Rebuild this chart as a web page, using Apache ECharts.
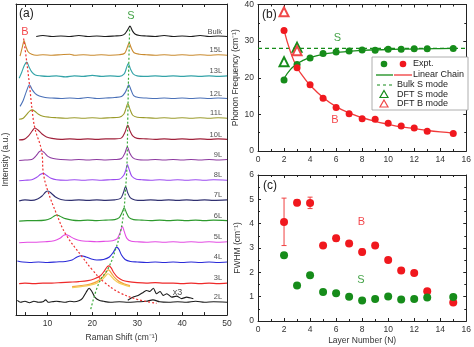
<!DOCTYPE html>
<html>
<head>
<meta charset="utf-8">
<script src="https://cdn.jsdelivr.net/npm/echarts@6/dist/echarts.min.js"></script>
<style>
html,body{margin:0;padding:0;background:#fff}
#main{width:474px;height:347px}
</style>
</head>
<body>
<div id="main"></div>
<script>
// ---- panel (a): Raman spectra, [shift cm-1, stacked intensity a.u.]
var specNames = ['Bulk','15L','13L','12L','11L','10L','9L','8L','7L','6L','5L','4L','3L','2L'];
var spBulk = [[7.5,283],[9,284],[11,283],[13,283.5],[15,283],[17,284],[19,283],[21,283.5],[23,283],[25,283.5],[26.5,284],[27.3,286],[27.9,290],[28.4,293.5],[28.9,289],[29.5,285.5],[30.5,284],[32,283.5],[34,283],[36,284],[38,283],[40,283.5],[42,283],[44,284],[46,283],[48,283.5],[50,283]];
var sp15L = [[3.9,263],[4.4,272],[4.8,279],[5.2,273],[5.7,267.5],[6.5,265],[7.5,264],[9,264.5],[11,264],[13,264.5],[15,265],[16,264],[18,264.5],[20,264],[22,264.5],[24,264],[26,264.5],[27.2,266],[27.8,272],[28.2,276.5],[28.7,271],[29.3,266.5],[30.5,265],[32,264.5],[34,264],[36,264.5],[38,264],[40,264.5],[42,264],[44,264.5],[46,264],[48,264.5],[50,264]];
var sp13L = [[3.7,240.5],[4.3,247],[4.9,254],[5.4,257],[5.9,252],[6.5,247],[7.3,244],[8.5,243],[10,242.5],[12,243],[14,242],[16,243],[18,242.5],[20,243.5],[22,242.5],[24,243],[26,242.5],[27.1,245],[27.6,251],[28,255.5],[28.5,250],[29.1,245],[30,243],[32,242.5],[34,243],[36,242.5],[38,243],[40,242.5],[42,243],[44,242.5],[46,243],[48,242.5],[50,243]];
var sp12L = [[3.9,212],[4.6,218],[5.3,227],[6.0,234],[6.6,229],[7.3,225],[8.2,222.5],[9.5,221],[11,220.5],[13,220],[15,220.5],[17,220],[19,221],[21,220],[23,220.5],[25,221],[26.5,222],[27.3,226],[27.8,231],[28.1,234],[28.6,229],[29.2,223],[30.3,221],[32,220.5],[34,220],[36,220.5],[38,220],[40,220.5],[42,220],[44,220.5],[46,220],[48,220.5],[50,220]];
var sp11L = [[3.7,199],[4.6,200],[5.4,204],[6.1,207.5],[6.6,208.5],[7.2,207],[8,204],[9,202],[10.5,201],[12,200.5],[14,200],[16,200.5],[18,200],[20,200.5],[22,200],[24,200.5],[26,201],[27,204],[27.5,210],[27.9,215],[28.4,209],[29,203],[30,201],[32,200.5],[34,200],[36,200.5],[38,200],[40,200.5],[42,200],[44,200.5],[46,200],[48,200.5],[50,200]];
var sp10L = [[3.7,178],[4.8,178.5],[5.8,182],[6.6,187],[7.2,190],[7.9,188],[8.8,184],[9.8,181],[11,179.5],[13,178.5],[15,179],[17,178.5],[19,179],[21,178.5],[23,179],[25,179],[26.5,180],[27.3,186],[27.9,193],[28.4,187],[29,182],[30,179.5],[32,179],[34,178.5],[36,179],[38,178.5],[40,179],[42,178.5],[44,179],[46,178.5],[48,179],[50,178.5]];
var sp9L = [[3.7,157],[5,157.5],[6.5,158],[7.5,162],[8.2,166],[8.7,167],[9.3,165],[10.2,161],[11.3,159],[13,158],[15,157.5],[17,158],[19,157.5],[21,158],[23,157.5],[25,158],[26.5,159],[27.3,165],[27.8,171],[28.3,165],[29,160],[30,158],[32,157.5],[34,158],[36,157.5],[38,158],[40,157.5],[42,158],[44,157.5],[46,158],[48,157.5],[50,158]];
var sp8L = [[3.7,136.5],[5,137],[6.5,137.5],[7.6,140],[8.5,143],[9.1,144],[9.8,142],[10.8,139],[12,137.5],[14,137],[16,137.5],[18,137],[20,137.5],[22,137],[24,137.5],[26,138],[27,142],[27.5,148],[27.8,153],[28.2,148],[28.8,141],[29.8,138],[31,137.5],[33,137],[35,137.5],[37,137],[39,137.5],[41,137],[43,137.5],[45,137],[47,137.5],[50,137]];
var sp7L = [[3.7,116],[5,117],[6.5,116.5],[7.8,118],[8.8,121],[9.6,125],[10.1,126],[10.8,124],[11.8,120],[13,117.5],[15,116.5],[17,117],[19,116.5],[21,117],[23,116.5],[25,117],[26.3,118.5],[26.9,124],[27.4,130.5],[27.9,124],[28.5,119],[29.5,117],[31,116.5],[33,117],[35,116.5],[37,117],[39,116.5],[41,117],[43,116.5],[45,117],[47,116.5],[50,117]];
var sp6L = [[3.7,95.5],[5.5,96],[7.5,96],[9.5,96.5],[10.8,98.5],[11.6,101],[12.1,101.7],[12.8,100.5],[14,98],[15.5,96.5],[17,96],[19,96.5],[21,96],[23,96.5],[25,97],[26,99],[26.6,104],[27.1,109],[27.6,104],[28.2,99],[29.2,97],[31,96.5],[33,96],[35,96.5],[37,96],[39,96.5],[41,96],[43,96.5],[45,96],[47,96.5],[50,96]];
var sp5L = [[3.7,73.5],[5.5,74],[7.5,74],[9.5,74.5],[11.5,75.5],[12.8,78],[13.6,81],[14.1,81.7],[14.8,80.5],[16,77.5],[17.5,75.5],[19,75],[21,74.5],[23,75],[24.5,75.5],[25.6,78],[26.2,84],[26.7,90],[27.1,85],[27.7,78],[28.7,75],[30,74.5],[32,74],[34,74.5],[36,74],[38,74.5],[40,74],[42,74.5],[44,74],[46,74.5],[48,74],[50,74.5]];
var sp4L = [[3.3,55],[4.5,54],[6,53.5],[8,54],[10,53.5],[12,54],[14,54.5],[15.5,56],[16.6,59],[17.6,60.3],[18.6,59],[19.8,57],[21,56],[22.5,56.5],[23.8,59],[24.7,64],[25.4,69],[25.9,67],[26.5,61],[27.3,56.5],[28.5,54.5],[30,54],[32,53.5],[34,54],[36,53.5],[38,54],[40,53.5],[42,54],[44,53.5],[46,54],[48,53.5],[50,54]];
var sp3L = [[3.7,32],[5,32.5],[7,32],[9,32.5],[11,32.5],[13,33],[15,33.5],[17,34],[19,35],[20.5,37],[21.8,40],[22.7,45],[23.3,49],[23.7,50],[24.2,48],[24.8,43],[25.6,38.5],[26.7,35.5],[28,34],[30,33],[32,32.5],[34,33],[36,32.5],[38,32.5],[40,32],[42,32.5],[44,32],[46,32.5],[48,32],[50,32.5]];
var sp2L = [[3.3,15],[4,13],[5,14],[6,12.5],[7,14],[8,13],[9,13.5],[9.6,15.5],[10.2,13],[11,13.5],[12,14],[13,13.5],[14,13],[15,14],[16,13.5],[17,14.5],[17.8,17],[18.6,23],[19.3,27.3],[19.9,24],[20.6,18],[21.5,15],[22.5,14],[24,13],[26,13.5],[28,13],[30,13.5],[32,14],[33.5,15.5],[35,13.5],[37,13],[39,13.5],[41,13],[43,14],[45,13],[47,13.5],[50,13]];
var sp2Lx3 = [[27.9,15],[29.1,18.3],[30.2,20],[31.4,23.3],[32.1,25],[32.8,24],[33.6,27.3],[34.3,21.7],[35.1,24],[35.8,20],[36.6,21.7],[37.7,18.3],[38.8,19.3],[39.9,16.7],[41,18.3],[42.5,16.7]];
var fit3La = [[15.5,29],[17.5,30],[19.5,31.5],[21,34],[22.2,38],[23,43],[23.6,46],[24.2,43],[25,38],[26,34],[27.2,31.5],[28.4,30]];
var fit3Lb = [[15.5,28],[17.5,29],[19.5,30.5],[21,32.5],[22.2,36],[23,40],[23.5,42],[24.1,40],[25,35.5],[26,32.5],[27.2,30.5],[28.4,29]];
var guideB = [[4.7,281],[5.4,257],[6.0,234],[6.6,208],[7.2,190],[8.7,167],[9.1,144],[10.1,126],[12.1,102],[14.1,82],[17.6,60],[20,46],[22.5,34],[26,23],[30,16],[34.3,12]];
var guideS = [[28.3,290],[28.1,250],[27.9,200],[27.7,150],[27.4,128],[27.0,105],[26.3,85],[25.2,67],[23.6,48],[21.5,33],[19.6,5]];
var ramanLabels = [10,20,30,40,50];
var ramanTicks = [5,10,15,20,25,30,35,40,45,50];

// ---- panel (b): phonon frequency vs layer number
var layerN = [2,3,4,5,6,7,8,9,10,11,12,13,15];
var freqS = [19.4,23.6,25.4,26.6,27.0,27.3,27.6,27.5,27.8,27.8,27.9,27.9,28.0];
var freqB = [32.9,22.7,18.1,14.4,11.9,10.2,8.8,8.7,7.6,6.8,6.3,5.4,4.8];
var chainN = [2,2.5,3,3.5,4,5,6,7,8,9,10,11,12,13,14,15];
var chainS = [19.8,22.3,23.8,24.8,25.5,26.4,26.9,27.2,27.5,27.6,27.7,27.8,27.85,27.9,27.95,28.0];
var chainB = [33,27,22.8,20.2,18,14.6,12.1,10.4,9.1,8.1,7.3,6.6,6.1,5.6,5.2,4.9];
var bulkS = 28.0;
var dftN = [2,3];
var dftS = [24.4,28.3];
var dftB = [38.0,27.4];

// ---- panel (c): FWHM vs layer number
var fwhmB = [4.07,4.86,4.85,3.1,3.4,3.19,2.84,3.1,2.51,2.08,1.97,1.22,0.76];
var fwhmBLo = [3.1,4.74,4.62,3.02,3.28,3.11,2.72,3.02,2.43,1.98,1.87,1.16,0.71];
var fwhmBHi = [5.05,4.98,5.09,3.18,3.52,3.27,2.96,3.18,2.59,2.18,2.07,1.28,0.81];
var fwhmS = [2.7,1.46,1.88,1.19,1.14,1.0,0.84,0.9,1.01,0.88,0.9,0.97,0.99];
var fwhmSLo = [2.6,1.41,1.83,1.14,1.09,0.95,0.79,0.85,0.96,0.83,0.85,0.92,0.94];
var fwhmSHi = [2.8,1.51,1.93,1.24,1.19,1.05,0.89,0.95,1.06,0.93,0.95,1.02,1.04];

var specColors = ['#1c1c1c','#c98a2e','#33a3a8','#4a70b8','#9b9b2a','#a0203a','#8d3aa0','#9b4bf0','#303070','#2e9a2e','#e34ce3','#2a2ad8','#ee2a2a','#1c1c1c'];
var red = '#f0181e', green = '#168c1a';
var font = 'Liberation Sans';
var axisColor = '#222';

var chart = echarts.init(document.getElementById('main'));

function xAx(grid, top, opt) {
    var a = {
        gridIndex: grid, type: 'value', position: top ? 'top' : 'bottom',
        axisLine: { show: true, onZero: false, lineStyle: { color: axisColor, width: 1 } },
        axisTick: { inside: true, length: 3, lineStyle: { color: axisColor } },
        minorTick: { show: false },
        axisLabel: { show: !top, color: '#333', fontSize: 8.5, fontFamily: font, margin: 4 },
        splitLine: { show: false }
    };
    return echarts.util.merge(a, opt, true);
}
function yAx(grid, right, opt) {
    var a = {
        gridIndex: grid, type: 'value', position: right ? 'right' : 'left',
        axisLine: { show: true, onZero: false, lineStyle: { color: axisColor, width: 1 } },
        axisTick: { inside: true, length: 3, lineStyle: { color: axisColor } },
        minorTick: { show: false },
        axisLabel: { show: !right, color: '#333', fontSize: 8.5, fontFamily: font, margin: 4 },
        splitLine: { show: false }
    };
    return echarts.util.merge(a, opt, true);
}
var nameStyle = { fontSize: 8.5, fontFamily: font, color: '#333' };

var specData = [spBulk,sp15L,sp13L,sp12L,sp11L,sp10L,sp9L,sp8L,sp7L,sp6L,sp5L,sp4L,sp3L,sp2L];
var series = [];

// fitted components under the 3L peak
[[fit3La,'#f5a040'],[fit3Lb,'#f3cf5a']].forEach(function (f) {
    series.push({ type: 'line', xAxisIndex: 0, yAxisIndex: 0, data: f[0], showSymbol: false, smooth: 0.4, silent: true,
        lineStyle: { color: f[1], width: 1.2 }, z: 2 });
});
specNames.forEach(function (name, i) {
    series.push({ type: 'line', name: name, xAxisIndex: 0, yAxisIndex: 0, data: specData[i], showSymbol: false,
        smooth: 0.3, silent: true, lineStyle: { color: specColors[i], width: 1.1 }, z: 3 });
});
series.push({ type: 'line', xAxisIndex: 0, yAxisIndex: 0, data: sp2Lx3, showSymbol: false, smooth: 0.2, silent: true,
    lineStyle: { color: '#1c1c1c', width: 1.1 }, z: 3 });
series.push({ type: 'line', xAxisIndex: 0, yAxisIndex: 0, data: guideB, showSymbol: false, smooth: 0.4, silent: true,
    lineStyle: { color: '#ee3030', width: 1.2, type: [2, 2] }, z: 4 });
series.push({ type: 'line', xAxisIndex: 0, yAxisIndex: 0, data: guideS, showSymbol: false, smooth: 0.4, silent: true,
    lineStyle: { color: '#3aaa3a', width: 1.2, type: [2, 2] }, z: 4 });
// spectrum names at right end, a little above each trace
series.push({ type: 'scatter', xAxisIndex: 0, yAxisIndex: 0, symbolSize: 0, silent: true, z: 5,
    data: specNames.map(function (n, i) { var d = specData[i]; return { value: [48.9, d[d.length - 1][1] + 5], name: n }; }),
    label: { show: true, position: [0, 0], align: 'right', verticalAlign: 'middle', formatter: '{b}',
        fontSize: 7.5, fontFamily: font, color: '#222' } });
series.push({ type: 'scatter', xAxisIndex: 0, yAxisIndex: 0, symbolSize: 0, silent: true, z: 5,
    data: [{ value: [39.0, 23.3], name: 'x3', c: '#222', s: 9 }, { value: [5.0, 288], name: 'B', c: red, s: 11 }, { value: [28.6, 304], name: 'S', c: green, s: 11 }].map(function (d) {
        return { value: d.value, name: d.name, label: { color: d.c, fontSize: d.s } };
    }),
    label: { show: true, position: [0, 0], align: 'center', verticalAlign: 'middle', formatter: '{b}', fontFamily: font } });

// panel (b)
series.push({ type: 'line', xAxisIndex: 2, yAxisIndex: 2, data: [[0, bulkS], [16, bulkS]], showSymbol: false, silent: true,
    lineStyle: { color: green, width: 1.2, type: [4, 3] }, z: 2 });
series.push({ type: 'line', xAxisIndex: 2, yAxisIndex: 2, data: chainN.map(function (n, i) { return [n, chainS[i]]; }),
    showSymbol: false, smooth: true, silent: true, lineStyle: { color: green, width: 1.3 }, z: 3 });
series.push({ type: 'line', xAxisIndex: 2, yAxisIndex: 2, data: chainN.map(function (n, i) { return [n, chainB[i]]; }),
    showSymbol: false, smooth: true, silent: true, lineStyle: { color: '#f03a3a', width: 1.3 }, z: 3 });
series.push({ type: 'scatter', xAxisIndex: 2, yAxisIndex: 2, data: layerN.map(function (n, i) { return [n, freqS[i]]; }),
    symbolSize: 7, itemStyle: { color: green, opacity: 1 }, z: 4 });
series.push({ type: 'scatter', xAxisIndex: 2, yAxisIndex: 2, data: layerN.map(function (n, i) { return [n, freqB[i]]; }),
    symbolSize: 7, itemStyle: { color: red, opacity: 1 }, z: 4 });
series.push({ type: 'scatter', xAxisIndex: 2, yAxisIndex: 2, data: dftN.map(function (n, i) { return [n, dftS[i]]; }),
    symbol: 'emptyTriangle', symbolSize: 9, itemStyle: { color: green, borderWidth: 1.2, opacity: 1 }, z: 5 });
series.push({ type: 'scatter', xAxisIndex: 2, yAxisIndex: 2, data: dftN.map(function (n, i) { return [n, dftB[i]]; }),
    symbol: 'emptyTriangle', symbolSize: 9, itemStyle: { color: '#f04848', borderWidth: 1.2, opacity: 1 }, z: 5 });
series.push({ type: 'scatter', xAxisIndex: 2, yAxisIndex: 2, symbolSize: 0, silent: true, z: 5,
    data: [{ value: [6.1, 30.8], name: 'S', label: { color: green } }, { value: [5.9, 8.4], name: 'B', label: { color: red } }],
    label: { show: true, position: [0, 0], align: 'center', verticalAlign: 'middle', formatter: '{b}', fontSize: 11, fontFamily: font } });

// panel (c)
function errBars(lo, hi, color) {
    return { type: 'custom', xAxisIndex: 4, yAxisIndex: 4, silent: true, z: 3,
        data: layerN.map(function (n, i) { return [n, lo[i], hi[i]]; }),
        renderItem: function (params, api) {
            var x = api.value(0);
            var p1 = api.coord([x, api.value(1)]);
            var p2 = api.coord([x, api.value(2)]);
            var w = 2.5;
            var st = { stroke: color, lineWidth: 1 };
            return { type: 'group', children: [
                { type: 'line', shape: { x1: p1[0], y1: p1[1], x2: p2[0], y2: p2[1] }, style: st },
                { type: 'line', shape: { x1: p1[0] - w, y1: p1[1], x2: p1[0] + w, y2: p1[1] }, style: st },
                { type: 'line', shape: { x1: p2[0] - w, y1: p2[1], x2: p2[0] + w, y2: p2[1] }, style: st }
            ] };
        } };
}
series.push(errBars(fwhmBLo, fwhmBHi, '#f04040'));
series.push(errBars(fwhmSLo, fwhmSHi, green));
series.push({ type: 'scatter', xAxisIndex: 4, yAxisIndex: 4, data: layerN.map(function (n, i) { return [n, fwhmB[i]]; }),
    symbolSize: 8, itemStyle: { color: red, opacity: 1 }, z: 4 });
series.push({ type: 'scatter', xAxisIndex: 4, yAxisIndex: 4, data: layerN.map(function (n, i) { return [n, fwhmS[i]]; }),
    symbolSize: 8, itemStyle: { color: green, opacity: 1 }, z: 4 });
series.push({ type: 'scatter', xAxisIndex: 4, yAxisIndex: 4, symbolSize: 0, silent: true, z: 5,
    data: [{ value: [7.95, 4.08], name: 'B', label: { color: red } }, { value: [7.9, 1.68], name: 'S', label: { color: green } }],
    label: { show: true, position: [0, 0], align: 'center', verticalAlign: 'middle', formatter: '{b}', fontSize: 11, fontFamily: font } });

// legend box of panel (b)
var lg = { font: '9px "Liberation Sans"', fill: '#222' };
function lgText(x, y, t) { return { type: 'text', x: x, y: y, z: 20, style: { text: t, font: lg.font, fill: lg.fill, verticalAlign: 'middle' } }; }
function tri(cx, cy, c) { return { type: 'polygon', z: 20, shape: { points: [[cx, cy - 4], [cx + 4, cy + 3], [cx - 4, cy + 3]] }, style: { fill: '#fff', stroke: c, lineWidth: 1.2 } }; }
var graphics = [
    { type: 'text', x: 19, y: 8, style: { text: '(a)', font: '12px "Liberation Sans"', fill: '#222' } },
    { type: 'text', x: 262, y: 9, style: { text: '(b)', font: '12px "Liberation Sans"', fill: '#222' } },
    { type: 'text', x: 263, y: 180, style: { text: '(c)', font: '12px "Liberation Sans"', fill: '#222' } },
    { type: 'rect', z: 19, shape: { x: 372, y: 57, width: 96, height: 53 }, style: { fill: '#fff', stroke: '#999', lineWidth: 0.8 } },
    { type: 'circle', z: 20, shape: { cx: 384, cy: 64, r: 3.3 }, style: { fill: green } },
    { type: 'circle', z: 20, shape: { cx: 403, cy: 64, r: 3.3 }, style: { fill: red } },
    lgText(413, 64, 'Expt.'),
    { type: 'line', z: 20, shape: { x1: 376, y1: 75, x2: 393, y2: 75 }, style: { stroke: green, lineWidth: 1.3 } },
    { type: 'line', z: 20, shape: { x1: 394, y1: 75, x2: 412, y2: 75 }, style: { stroke: '#f03a3a', lineWidth: 1.3 } },
    lgText(413, 75, 'Linear Chain'),
    { type: 'line', z: 20, shape: { x1: 377, y1: 85, x2: 392, y2: 85 }, style: { stroke: green, lineWidth: 1.2, lineDash: [3, 3] } },
    lgText(397, 85, 'Bulk S mode'),
    tri(384, 94.5, green),
    lgText(397, 94.5, 'DFT S mode'),
    tri(384, 104, '#f04848'),
    lgText(397, 104, 'DFT B mode')
];

var option = {
    animation: false,
    textStyle: { fontFamily: font },
    grid: [
        { left: 16, right: 247, top: 4, bottom: 27 },
        { left: 258, right: 4, top: 3, bottom: 196 },
        { left: 258, right: 4, top: 175, bottom: 26 }
    ],
    xAxis: [
        xAx(0, false, { min: 3, max: 50, axisTick: { customValues: ramanTicks }, axisLabel: { customValues: ramanLabels },
            name: 'Raman Shift (cm⁻¹)', nameLocation: 'middle', nameGap: 16, nameTextStyle: nameStyle }),
        xAx(0, true, { min: 3, max: 50, axisTick: { customValues: ramanTicks } }),
        xAx(1, false, { min: 0, max: 16, interval: 2, minorTick: { show: true, splitNumber: 2, length: 2 } }),
        xAx(1, true, { min: 0, max: 16, interval: 2, minorTick: { show: true, splitNumber: 2, length: 2 } }),
        xAx(2, false, { min: 0, max: 16, interval: 2, minorTick: { show: true, splitNumber: 2, length: 2 },
            name: 'Layer Number (N)', nameLocation: 'middle', nameGap: 15, nameTextStyle: nameStyle }),
        xAx(2, true, { min: 0, max: 16, interval: 2, minorTick: { show: true, splitNumber: 2, length: 2 } })
    ],
    yAxis: [
        yAx(0, false, { min: 0, max: 316, axisTick: { show: false }, axisLabel: { show: false },
            name: 'Intensity (a.u.)', nameLocation: 'middle', nameGap: 6, nameTextStyle: nameStyle }),
        yAx(0, true, { min: 0, max: 316, axisTick: { show: false } }),
        yAx(1, false, { min: 0, max: 40, interval: 10, minorTick: { show: true, splitNumber: 2, length: 2 },
            name: 'Phonon Frequency (cm⁻¹)', nameLocation: 'middle', nameGap: 16, nameTextStyle: nameStyle }),
        yAx(1, true, { min: 0, max: 40, interval: 10, minorTick: { show: true, splitNumber: 2, length: 2 } }),
        yAx(2, false, { min: 0, max: 6, interval: 1, minorTick: { show: true, splitNumber: 2, length: 2 },
            name: 'FWHM (cm⁻¹)', nameLocation: 'middle', nameGap: 16, nameTextStyle: nameStyle }),
        yAx(2, true, { min: 0, max: 6, interval: 1, minorTick: { show: true, splitNumber: 2, length: 2 } })
    ],
    series: series,
    graphic: graphics
};
chart.setOption(option);
</script>
</body>
</html>
